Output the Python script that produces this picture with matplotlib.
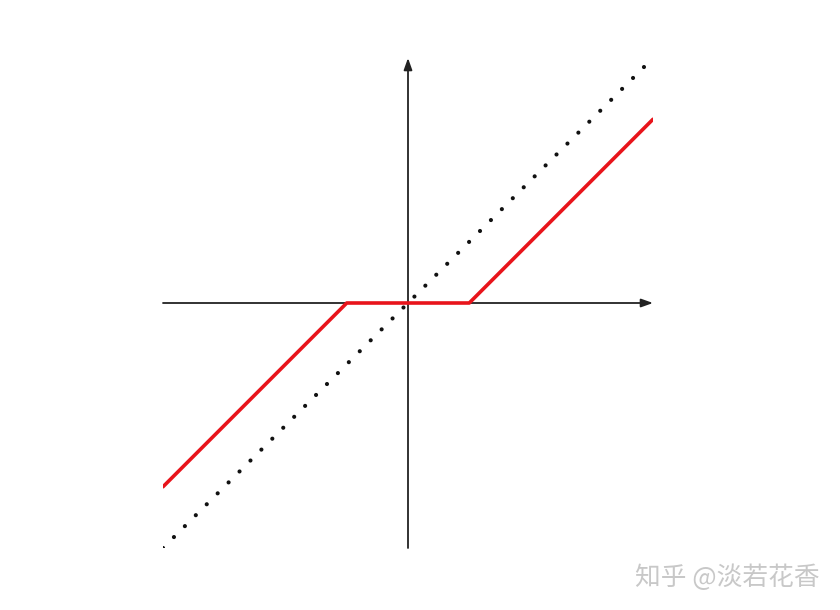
import matplotlib
matplotlib.use("Agg")
import matplotlib.pyplot as plt
import numpy as np

# data
x_range = [-4.0, 4.0]
threshold = 1.0
x_pts = [-4.0, -1.0, 1.0, 4.0]
soft_y = [-3.0, 0.0, 0.0, 3.0]
identity_x = [-4.0, 4.0]
identity_y = [-4.0, 4.0]
watermark = "知乎 @淡若花香"

fig = plt.figure(figsize=(8.4, 6.1), dpi=100)
ax = fig.add_axes([163/840, 62/610, 490/840, 490/610])
ax.set_xlim(-4, 4)
ax.set_ylim(-4, 4)
ax.axis("off")

# axes with arrows
ax.annotate("", xy=(4.0, 0), xytext=(-4.0, 0),
            arrowprops=dict(arrowstyle="-|>,head_length=0.7,head_width=0.25",
                            color="#222222", lw=1.3, shrinkA=0, shrinkB=0))
ax.annotate("", xy=(0, 4.0), xytext=(0, -4.0),
            arrowprops=dict(arrowstyle="-|>,head_length=0.7,head_width=0.25",
                            color="#222222", lw=1.3, shrinkA=0, shrinkB=0))

# identity dotted line
ax.plot(identity_x, identity_y, color="#111111", lw=3.0,
        linestyle=(0, (0.01, 3.7)), dash_capstyle="round", zorder=2)

# soft threshold
ax.plot(x_pts, soft_y, color="#e8141b", lw=2.6, solid_capstyle="round", zorder=3)

fig.text(820/840, 1 - 578/610, watermark, ha="right", va="center",
         fontsize=18.5, color="#c8c8c8",
         family=["Noto Sans CJK SC", "DejaVu Sans"])

fig.savefig("out.png", dpi=100, facecolor="white")
